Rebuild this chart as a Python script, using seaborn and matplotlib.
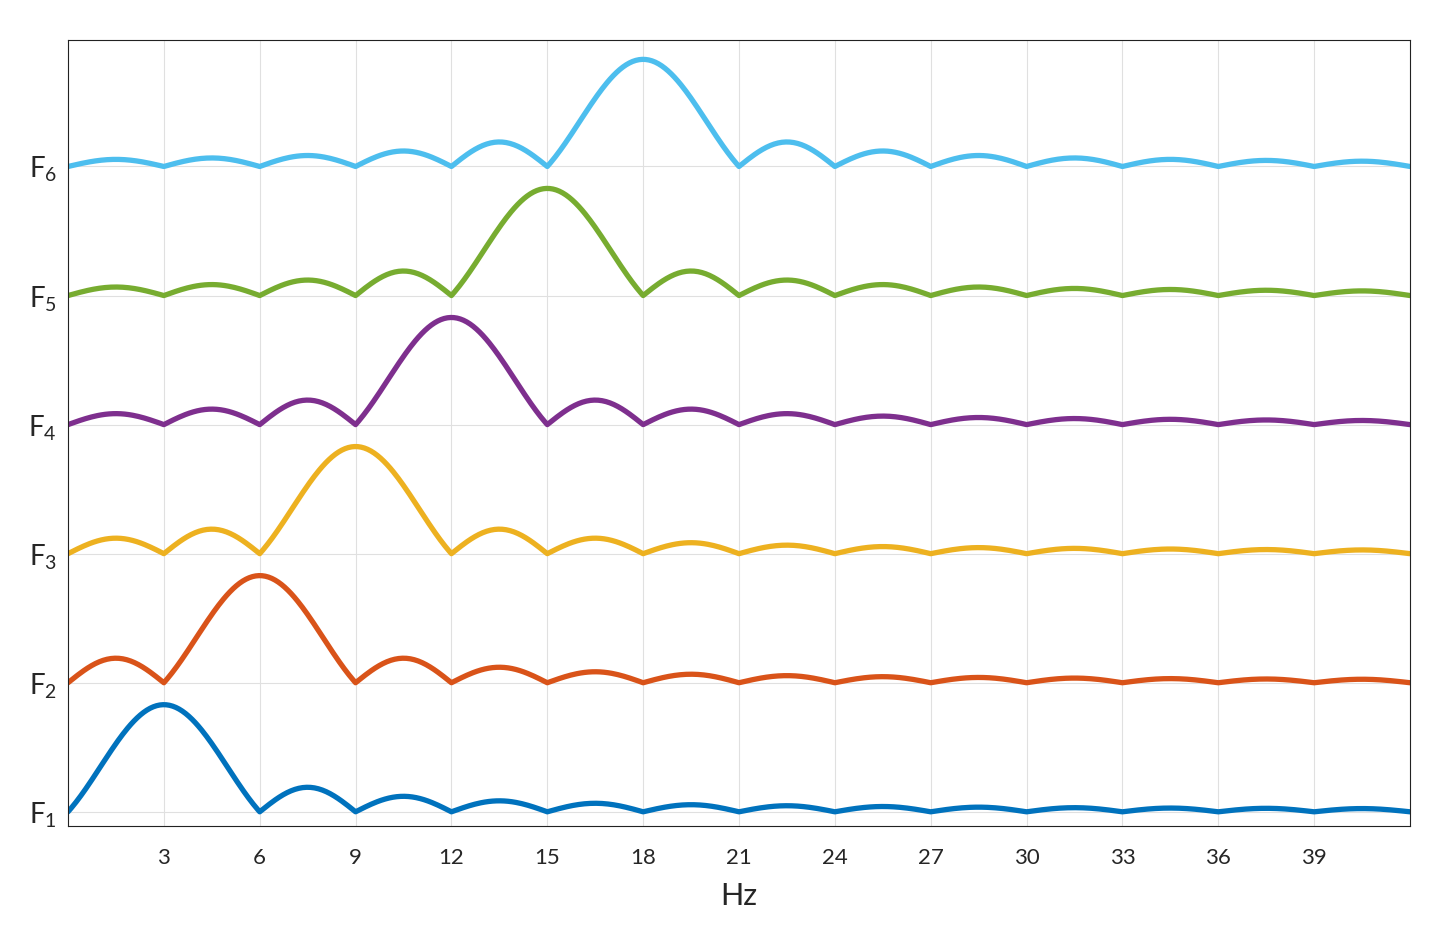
import numpy as np
import pandas as pd
import matplotlib
matplotlib.use("Agg")
import matplotlib.pyplot as plt
import seaborn as sns

series = ["F1", "F2", "F3", "F4", "F5", "F6"]
main_centers = [3, 6, 9, 12, 15, 18]          # Hz, centre of main lobe
offsets = [0, 1, 2, 3, 4, 5]                   # vertical baseline of each trace
main_peak = 0.83
# side-lobe peak heights, by lobe index away from the main lobe
side_peaks = [0.19, 0.12, 0.085, 0.066, 0.055, 0.047, 0.041, 0.036, 0.032,
              0.029, 0.027, 0.025, 0.023, 0.022]
colors = ["#0072BD", "#D95319", "#EDB120", "#7E2F8E", "#77AC30", "#4DBEEE"]
xticks = [3, 6, 9, 12, 15, 18, 21, 24, 27, 30, 33, 36, 39]
lobe_w = 3.0
x_max = 42.0

rows = []
for name, c, off in zip(series, main_centers, offsets):
    # main lobe (sinc-like profile)
    xs = np.linspace(c - lobe_w, c + lobe_w, 120)
    xs = xs[xs >= 0]
    for x in xs:
        rows.append((name, x, off + main_peak * abs(np.sinc((x - c) / lobe_w))))
    k = 0
    start = c + lobe_w
    while start < x_max:
        xs = np.linspace(start, min(start + lobe_w, x_max), 50)
        for x in xs:
            rows.append((name, x, off + side_peaks[k] * np.sin(np.pi * (x - start) / lobe_w)))
        start += lobe_w; k += 1
    k = 0
    end = c - lobe_w
    while end > 0:
        xs = np.linspace(end - lobe_w, end, 50)
        for x in xs:
            rows.append((name, x, off + side_peaks[k] * np.sin(np.pi * (end - x) / lobe_w)))
        end -= lobe_w; k += 1

df = pd.DataFrame(rows, columns=["series", "Hz", "val"]).sort_values(["series", "Hz"])

sns.set_style("white")
plt.rcParams["font.family"] = ["Lato", "DejaVu Sans"]
plt.rcParams["mathtext.fontset"] = "custom"
plt.rcParams["mathtext.rm"] = "Lato"
plt.rcParams["mathtext.it"] = "Lato"

fig = plt.figure(figsize=(14.56, 9.33), dpi=100)
ax = fig.add_axes([68 / 1456, 107 / 933, (1410 - 68) / 1456, (826 - 40) / 933])
sns.lineplot(data=df, x="Hz", y="val", hue="series", palette=colors,
             linewidth=3.8, legend=False, ax=ax, sort=False, estimator=None)
ax.set_xlim(0, x_max)
ax.set_ylim(-0.11, 5.98)
ax.set_xticks(xticks)
ax.set_xticklabels([str(t) for t in xticks], fontsize=16)
ax.set_yticks(offsets)
ax.set_yticklabels([f"F$_{{{i+1}}}$" for i in range(6)], fontsize=20)
ax.grid(True, color="#e0e0e0", linewidth=0.8)
ax.set_axisbelow(True)
for s in ax.spines.values():
    s.set_color("#222222"); s.set_linewidth(0.8)
ax.tick_params(axis="x", direction="in", length=5, color="#222222", pad=16)
ax.tick_params(axis="y", direction="in", length=5, color="#222222", pad=8)
ax.set_xlabel("Hz", fontsize=22, labelpad=10)
ax.set_ylabel("")
fig.savefig("out.png", dpi=100)
